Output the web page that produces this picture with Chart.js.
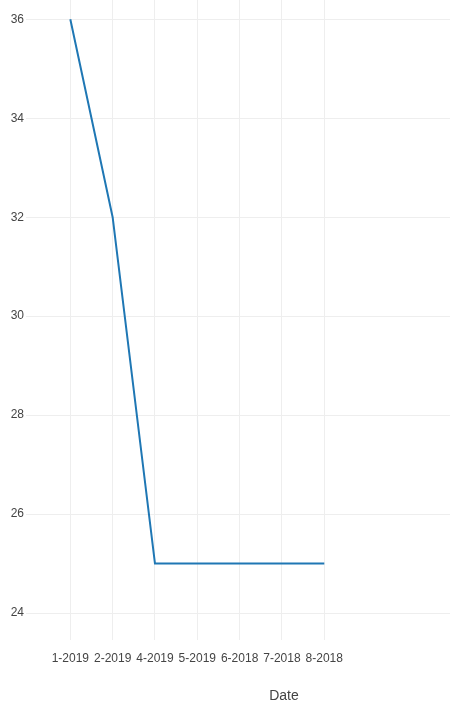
<!DOCTYPE html>
<html><head><meta charset="utf-8">
<script src="https://cdn.jsdelivr.net/npm/chart.js@4/dist/chart.umd.min.js"></script>
<style>html,body{margin:0;padding:0;background:#fff;}#wrap{width:450px;height:716px;position:relative;}</style>
</head><body>
<div id="wrap"><canvas id="c" width="450" height="716"></canvas></div>
<script>
const categories = ["1-2019","2-2019","4-2019","5-2019","6-2018","7-2018","8-2018"];
const values = [36, 32, 25, 25, 25, 25, 25];
const yTicks = [24, 26, 28, 30, 32, 34, 36];
const xTitle = "Date";

const FONT = "Arial, 'Liberation Sans', sans-serif";
const titlePlugin = {
  id: 'xtitle',
  afterDraw(chart) {
    const ctx = chart.ctx;
    ctx.save();
    ctx.font = "14px " + FONT;
    ctx.fillStyle = "#444";
    ctx.textAlign = "center";
    ctx.textBaseline = "middle";
    ctx.fillText(xTitle, 284, 696);
    ctx.restore();
  }
};

new Chart(document.getElementById('c'), {
  type: 'line',
  data: {
    datasets: [{
      data: values.map((v, i) => ({x: i, y: v})),
      borderColor: '#1f77b4',
      borderWidth: 2,
      pointRadius: 0,
      fill: false,
      tension: 0
    }]
  },
  options: {
    responsive: false,
    animation: false,
    layout: {padding: 0},
    plugins: {legend: {display: false}, tooltip: {enabled: false}},
    scales: {
      x: {
        type: 'linear',
        min: -1.047,
        max: 8.97,
        afterBuildTicks(s) { s.ticks = categories.map((c, i) => ({value: i})); },
        afterFit(s) { s.height = 76; s.paddingLeft = 0; s.paddingRight = 0; },
        ticks: {
          callback: (v) => categories[v],
          color: '#444',
          font: {family: FONT, size: 12},
          padding: 11,
          maxRotation: 0,
          autoSkip: false
        },
        grid: {color: '#eeeeee', lineWidth: 1, drawTicks: false},
        border: {display: false}
      },
      y: {
        min: 23.455,
        max: 36.39,
        afterBuildTicks(s) { s.ticks = yTicks.map(v => ({value: v})); },
        afterFit(s) { s.width = 26; s.paddingTop = 0; s.paddingBottom = 0; },
        ticks: {
          color: '#444',
          font: {family: FONT, size: 12},
          padding: 2
        },
        grid: {color: '#eeeeee', lineWidth: 1, drawTicks: false},
        border: {display: false}
      }
    }
  },
  plugins: [titlePlugin]
});
</script>
</body></html>
